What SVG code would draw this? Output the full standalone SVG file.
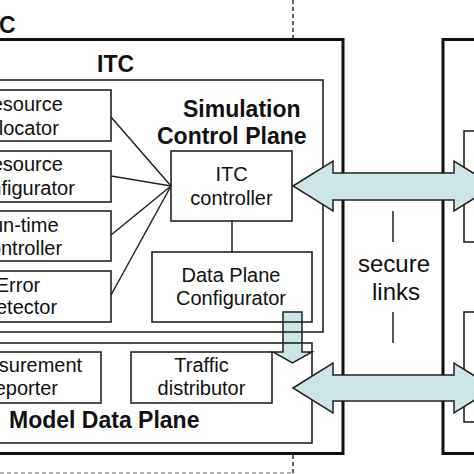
<svg xmlns="http://www.w3.org/2000/svg" width="474" height="474" viewBox="0 0 474 474">
<style>
text{font-family:"Liberation Sans",Arial,sans-serif;fill:#111}
.t{font-size:20px;text-anchor:middle}
.b{font-size:23px;font-weight:bold}
.box{fill:none;stroke:#222;stroke-width:1.6}
.thick{fill:none;stroke:#111;stroke-width:3}
.ln{stroke:#222;stroke-width:1.5;fill:none}
.arr{fill:#cde5e7;stroke:#222;stroke-width:1.5;stroke-linejoin:miter}
</style>
<rect x="0" y="0" width="474" height="474" fill="#fff"/>
<g id="dashes">
<line x1="293" y1="0" x2="293" y2="39" stroke="#333" stroke-width="1.5" stroke-dasharray="4,3"/>
<line x1="293" y1="455" x2="293" y2="474" stroke="#333" stroke-width="1.5" stroke-dasharray="4,3"/>
<line x1="0" y1="473" x2="292" y2="473" stroke="#999" stroke-width="1.5" stroke-dasharray="4,3"/>
</g>
<g id="down-arrow">
<path class="arr" d="M283,312 L302,312 L302,352 L312,352 L292.5,363 L273,352 L283,352 Z"/>
</g>
<g id="outer-itc">
<rect class="thick" x="-10" y="39.5" width="353" height="414"/>
<text class="b" x="-1" y="33">C</text>
<text class="b" x="97" y="72">ITC</text>
</g>
<g id="remote">
<rect class="thick" x="443" y="39.5" width="60" height="414"/>
</g>
<g id="simulation-control-plane">
<rect class="box" x="-10" y="80" width="333" height="252"/>
<text class="b" x="183" y="117">Simulation</text>
<text class="b" x="157" y="144">Control Plane</text>
</g>
<g id="model-data-plane">
<rect class="box" x="-10" y="343" width="322" height="100"/>
<text class="b" x="9" y="428">Model Data Plane</text>
</g>
<g id="resource-allocator">
<rect class="box" x="-60" y="90" width="171" height="51"/>
<text class="t" x="20" y="111">Resource</text>
<text class="t" x="21" y="135">allocator</text>
</g>
<g id="resource-configurator">
<rect class="box" x="-60" y="151" width="171" height="51"/>
<text class="t" x="20" y="171">Resource</text>
<text class="t" x="22" y="195">configurator</text>
</g>
<g id="run-time-controller">
<rect class="box" x="-60" y="211" width="171" height="50"/>
<text class="t" x="18" y="232">Run-time</text>
<text class="t" x="21" y="255">controller</text>
</g>
<g id="error-detector">
<rect class="box" x="-60" y="271" width="171" height="51"/>
<text class="t" x="18" y="292">Error</text>
<text class="t" x="21" y="314">detector</text>
</g>
<g id="itc-controller">
<rect class="box" x="171" y="151" width="121" height="70"/>
<text class="t" x="231.5" y="181">ITC</text>
<text class="t" x="231.5" y="205">controller</text>
</g>
<g id="data-plane-configurator">
<rect class="box" x="152" y="252" width="160" height="70"/>
<text class="t" x="231" y="282">Data Plane</text>
<text class="t" x="231" y="305">Configurator</text>
</g>
<g id="measurement-reporter">
<rect class="box" x="-60" y="352" width="161" height="51"/>
<text class="t" x="21" y="372">Measurement</text>
<text class="t" x="23" y="395">reporter</text>
</g>
<g id="traffic-distributor">
<rect class="box" x="131" y="352" width="141" height="51"/>
<text class="t" x="201.5" y="372">Traffic</text>
<text class="t" x="201.5" y="395">distributor</text>
</g>
<g id="remote-upper">
<rect class="box" x="464" y="131" width="30" height="111"/>
</g>
<g id="remote-lower">
<rect class="box" x="464" y="312" width="30" height="110"/>
</g>
<g id="secure-links">
<text class="t" x="394" y="272" style="font-size:24px">secure</text>
<text class="t" x="396" y="300" style="font-size:24px">links</text>
</g>
<g id="connectors">
<line class="ln" x1="111" y1="117" x2="171" y2="186"/>
<line class="ln" x1="111" y1="176" x2="171" y2="186"/>
<line class="ln" x1="111" y1="235" x2="171" y2="186"/>
<line class="ln" x1="111" y1="295" x2="171" y2="186"/>
<line class="ln" x1="232" y1="221" x2="232" y2="252"/>
<line class="ln" x1="393" y1="211" x2="393" y2="242"/>
<line class="ln" x1="393" y1="312" x2="393" y2="343"/>
<path class="arr" d="M293,186 L333,161 L333,173 L454,173 L454,161 L494,186 L454,211 L454,200 L333,200 L333,211 Z"/>
<path class="arr" d="M293,388 L333,363 L333,375 L454,375 L454,363 L494,388 L454,413 L454,401 L333,401 L333,413 Z"/>
</g>
</svg>
